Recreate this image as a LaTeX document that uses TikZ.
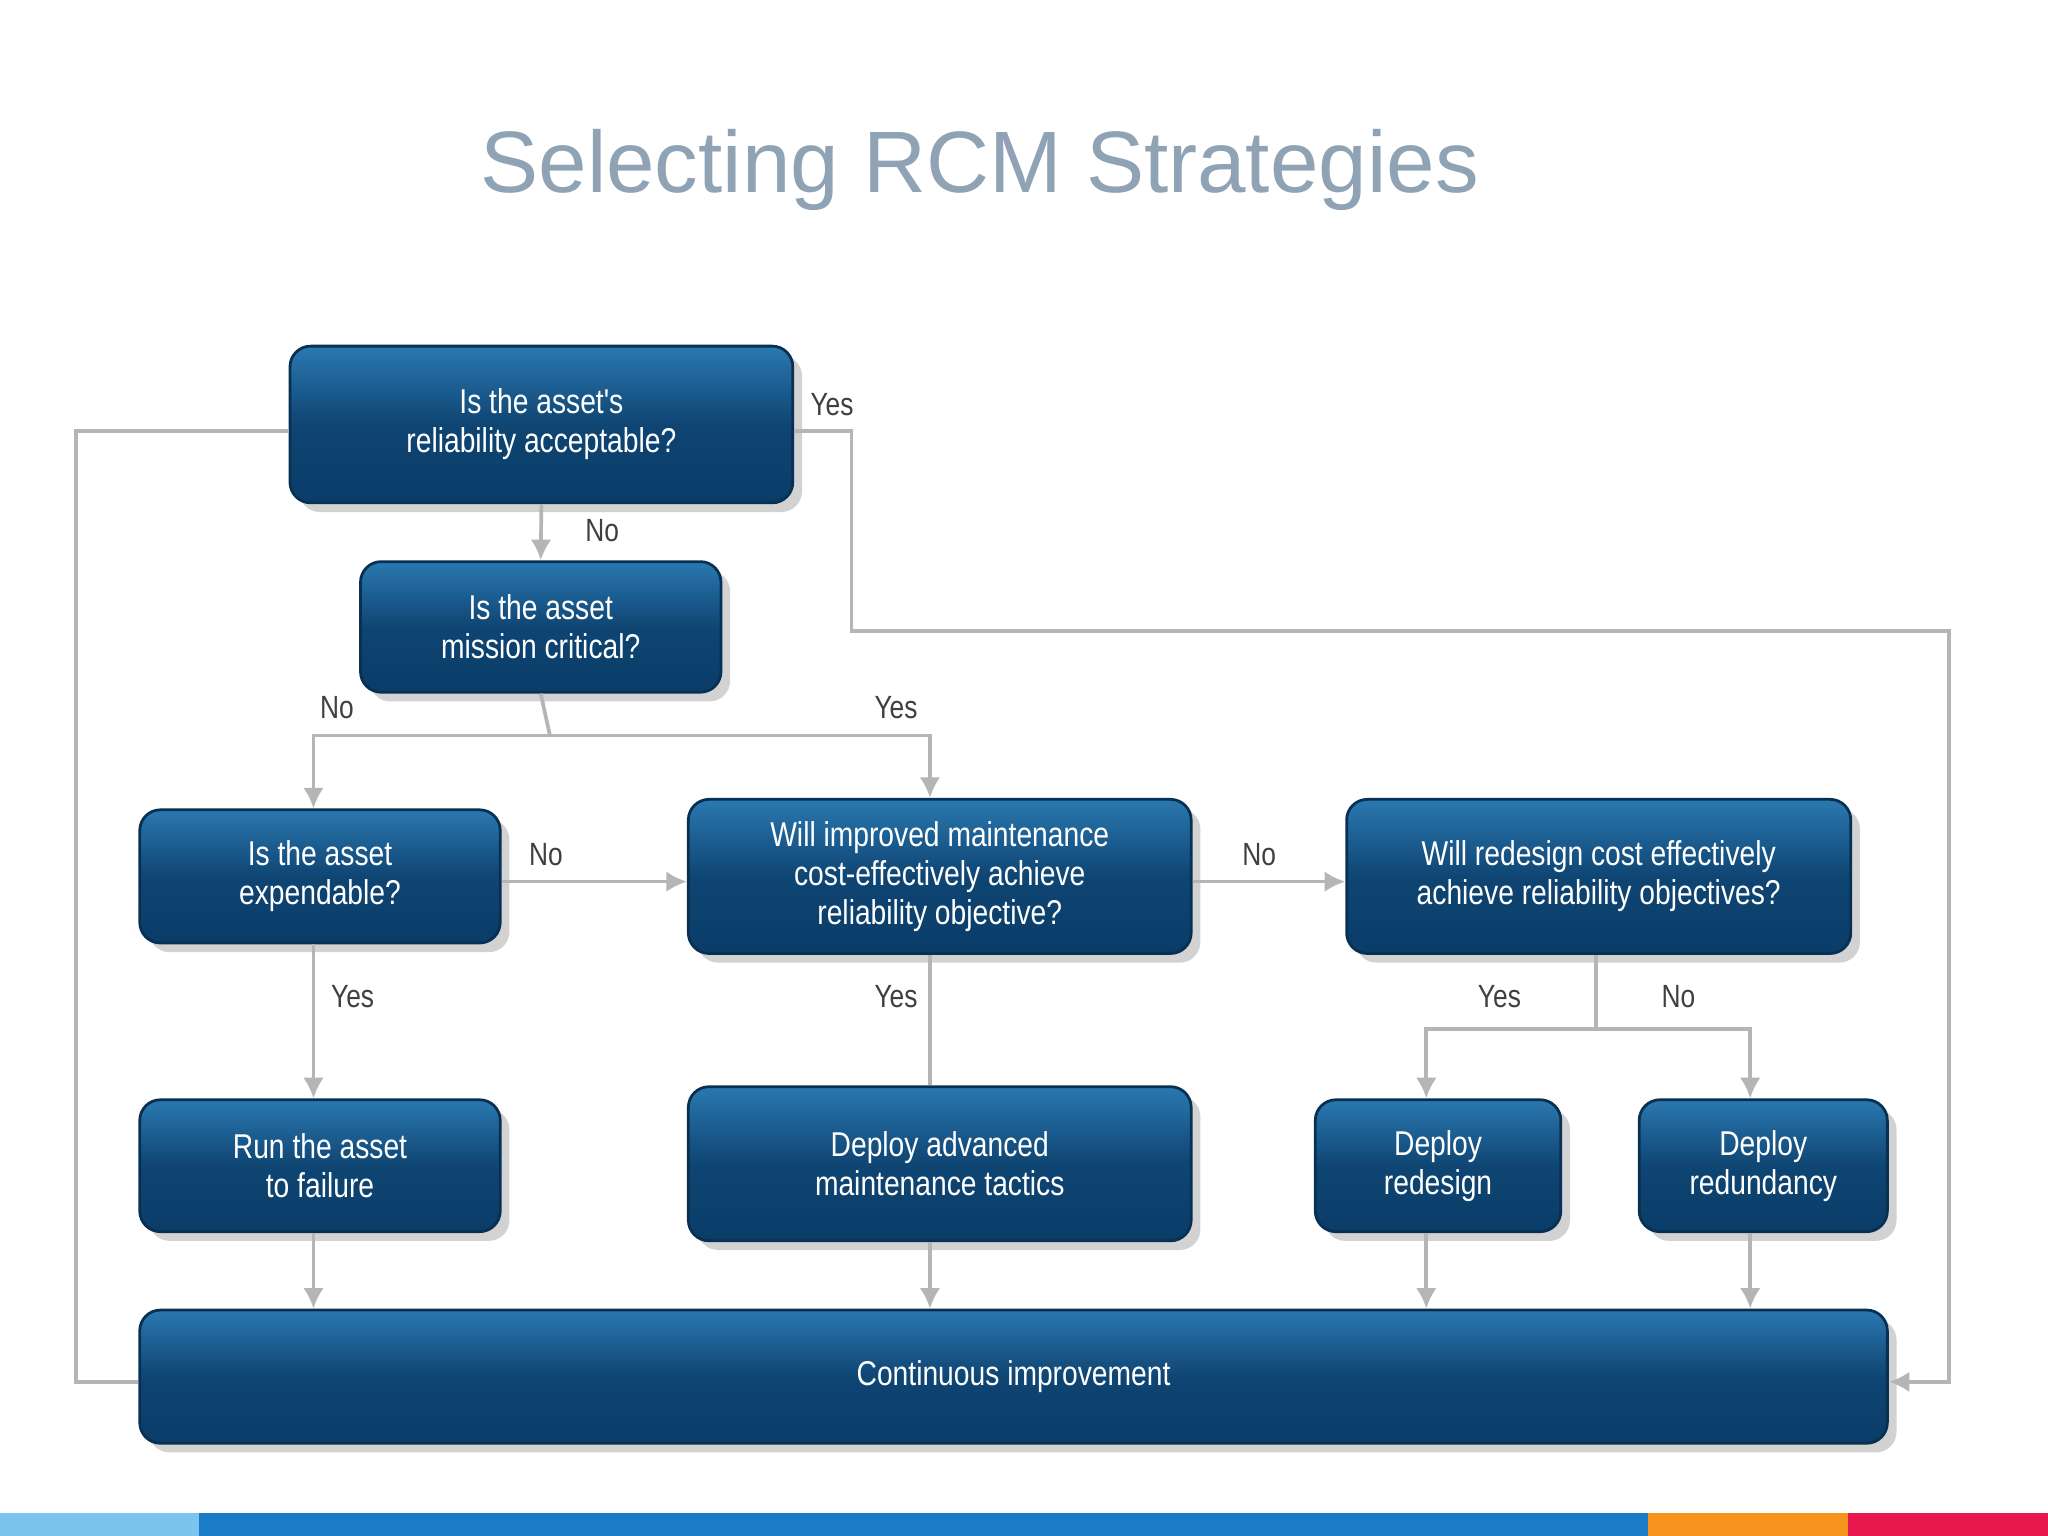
\documentclass[tikz,border=0pt]{standalone}
\usepackage{fontspec}
\setmainfont{Liberation Sans}
\newfontfamily\nar{Liberation Sans}[FakeStretch=0.82]
\usetikzlibrary{shadows,arrows.meta}
\definecolor{ttl}{HTML}{8FA3B5}
\definecolor{ln}{HTML}{B5B5B5}
\definecolor{bxtop}{HTML}{2A78B0}
\definecolor{bxbot}{HTML}{0A3C68}
\definecolor{c1}{HTML}{7CC4F0}
\definecolor{c2}{HTML}{1A7CC6}
\definecolor{c3}{HTML}{F7941D}
\definecolor{c4}{HTML}{E8174D}
\begin{document}
\begin{tikzpicture}[x=0.02cm,y=-0.02cm,
 box/.style={draw=bxbot!80!black,line width=1.2pt,rounded corners=9pt,top color=bxtop,bottom color=bxbot,middle color=bxbot!85!bxtop,
   drop shadow={shadow xshift=4pt,shadow yshift=-4pt,opacity=0.35},text=white,font=\nar\fontsize{15}{17}\selectfont,align=center,inner sep=0pt},
 con/.style={draw=ln,line width=1.6pt},
 arr/.style={con,-{Latex[length=9pt,width=9pt]}},
 lab/.style={font=\nar\fontsize{14}{16}\selectfont,text=black!75}]
\useasboundingbox (0,0) rectangle (1568,1176);
\fill[white] (0,0) rectangle (1568,1176);
\node[font=\fontsize{38}{44}\selectfont,text=ttl] (title) at (750,130) {Selecting RCM Strategies};
\fill[c1] (0,1158) rectangle (152,1176);
\fill[c2] (152,1158) rectangle (1262,1176);
\fill[c3] (1262,1158) rectangle (1415,1176);
\fill[c4] (1415,1158) rectangle (1568,1176);
\newcommand{\bx}[6]{\node[box,minimum width={(#4-#2)*0.02cm},minimum height={(#5-#3)*0.02cm}] (#1) at ({(#2+#4)/2},{(#3+#5)/2}) {#6};}
\bx{A}{222}{265}{607}{385}{Is the asset's\\reliability acceptable?}
\bx{B}{276}{430}{552}{530}{Is the asset\\mission critical?}
\bx{C}{107}{620}{383}{722}{Is the asset\\expendable?}
\bx{D}{527}{612}{912}{730}{Will improved maintenance\\cost-effectively achieve\\reliability objective?}
\bx{E}{1031}{612}{1417}{730}{Will redesign cost effectively\\achieve reliability objectives?}
\bx{F}{107}{842}{383}{943}{Run the asset\\to failure}
\bx{G}{527}{832}{912}{950}{Deploy advanced\\maintenance tactics}
\bx{H}{1007}{842}{1195}{943}{Deploy\\redesign}
\bx{I}{1255}{842}{1445}{943}{Deploy\\redundancy}
\bx{J}{107}{1003}{1445}{1105}{Continuous improvement}
\coordinate (b1) at (421,563);
\coordinate (e1) at (1222,788);
\draw[arr] (A.south) -- (B.north);
\node[lab] at (461,406) {No};
\draw[con] (A.west |- 0,330) -- (58,330) -- (58,1058) -- (J.west |- 0,1058);
\draw[arr] (A.east |- 0,330) -- (652,330) -- (652,483) -- (1492,483) -- (1492,1058) -- (J.east |- 0,1058);
\node[lab] at (637,310) {Yes};
\draw[con] (B.south) -- (b1);
\draw[arr] (b1) -- (240,563) -- (C.north -| 240,0);
\draw[arr] (b1) -- (712,563) -- (D.north -| 712,0);
\node[lab] at (258,542) {No};
\node[lab] at (686,542) {Yes};
\draw[arr] (C.east |- 0,675) -- (D.west |- 0,675);
\node[lab] at (418,654) {No};
\draw[arr] (D.east |- 0,675) -- (E.west |- 0,675);
\node[lab] at (964,654) {No};
\draw[arr] (C.south -| 240,0) -- (F.north -| 240,0);
\node[lab] at (270,763) {Yes};
\draw[con] (D.south -| 712,0) -- (G.north -| 712,0);
\node[lab] at (686,763) {Yes};
\draw[con] (E.south -| 1222,0) -- (e1);
\draw[arr] (e1) -- (1092,788) -- (H.north -| 1092,0);
\draw[arr] (e1) -- (1340,788) -- (I.north -| 1340,0);
\node[lab] at (1148,763) {Yes};
\node[lab] at (1285,763) {No};
\draw[arr] (F.south -| 240,0) -- (J.north -| 240,0);
\draw[arr] (G.south -| 712,0) -- (J.north -| 712,0);
\draw[arr] (H.south -| 1092,0) -- (J.north -| 1092,0);
\draw[arr] (I.south -| 1340,0) -- (J.north -| 1340,0);
\end{tikzpicture}
\end{document}
